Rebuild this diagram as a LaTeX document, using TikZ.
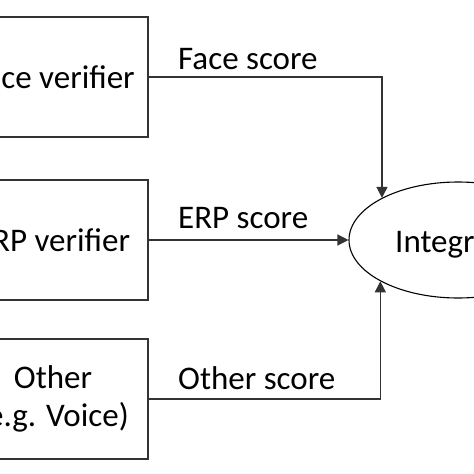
\documentclass[tikz,border=0pt]{standalone}
\usepackage{fontspec}
\setmainfont{Carlito}
\usetikzlibrary{shapes.geometric,arrows.meta}
\tikzset{
  txt/.style={font=\fontsize{33}{38}\selectfont},
  box/.style={txt, draw=black!80, line width=1.4pt, minimum width=190pt, minimum height=120pt, inner sep=0pt, align=center},
  integ/.style={ellipse, draw=black, line width=1.1pt, minimum width=218pt, minimum height=116pt, inner sep=0pt},
  conn/.style={draw=black!80, line width=1.4pt},
  arr/.style={conn, -{Triangle[length=11pt,width=11pt]}},
  lbl/.style={txt, anchor=base west, inner sep=0pt}
}
\begin{document}
\begin{tikzpicture}[x=1pt,y=-1pt]
\clip (0,0) rectangle (474,474);
\fill[white] (0,0) rectangle (474,474);
\node[box] (b1) at (53,77) {Face verifier};
\node[box] (b2) at (53,240) {ERP verifier};
\node[box] (b3) at (53,399) {Other\\(e.g. Voice)};
\node[integ] (ell) at (458,240) {};
\node[lbl] (itext) at (395,252) {Integration};
\coordinate (c1) at (ell.151.4 |- b1.east);
\coordinate (c3) at (ell.208.6 |- b3.east);
\draw[arr] (b1.east) -- (c1) -- (ell.151.4);
\draw[arr] (b2.east) -- (ell.west);
\draw[arr] (b3.east) -- (c3) -- (ell.208.6);
\node[lbl] (l1) at (178,69) {Face score};
\node[lbl] (l2) at (178,228) {ERP score};
\node[lbl] (l3) at (178,389) {Other score};
\end{tikzpicture}
\end{document}
